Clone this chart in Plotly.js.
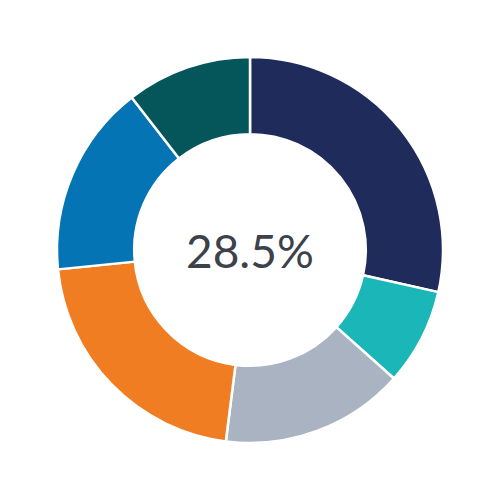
<!DOCTYPE html>
<html>
<head>
<meta charset="utf-8">
<script src="https://cdn.plot.ly/plotly-3.0.1.min.js"></script>
<style>
  html, body { margin: 0; padding: 0; background: #fff; }
  #chart { width: 500px; height: 500px; }
</style>
</head>
<body>
<div id="chart"></div>
<script>
// Slice data, clockwise from 12 o'clock
const labels = ['Segment 1', 'Segment 2', 'Segment 3', 'Segment 4', 'Segment 5', 'Segment 6'];
const values = [28.5, 8.1, 15.4, 21.4, 16.1, 10.5];
const colors = ['#1e2b5b', '#1bb6b8', '#a9b3c1', '#f07d21', '#0474b5', '#04565a'];
const centerLabel = '28.5%';

const trace = {
    type: 'pie',
    labels: labels,
    values: values,
    hole: 0.6,
    sort: false,
    direction: 'clockwise',
    rotation: 0,
    textinfo: 'none',
    hoverinfo: 'label+percent',
    marker: {
        colors: colors,
        line: { color: '#ffffff', width: 2.5 }
    }
};

const layout = {
    width: 500,
    height: 500,
    showlegend: false,
    margin: { l: 57, r: 57, t: 57, b: 57 },
    paper_bgcolor: '#ffffff',
    annotations: [{
        text: centerLabel,
        x: 0.5,
        y: 0.5,
        xref: 'paper',
        yref: 'paper',
        showarrow: false,
        font: { family: 'Lato, sans-serif', size: 46, weight: 400, color: '#3c414a' }
    }]
};

Plotly.newPlot('chart', [trace], layout, { displayModeBar: false, staticPlot: true });
</script>
</body>
</html>
